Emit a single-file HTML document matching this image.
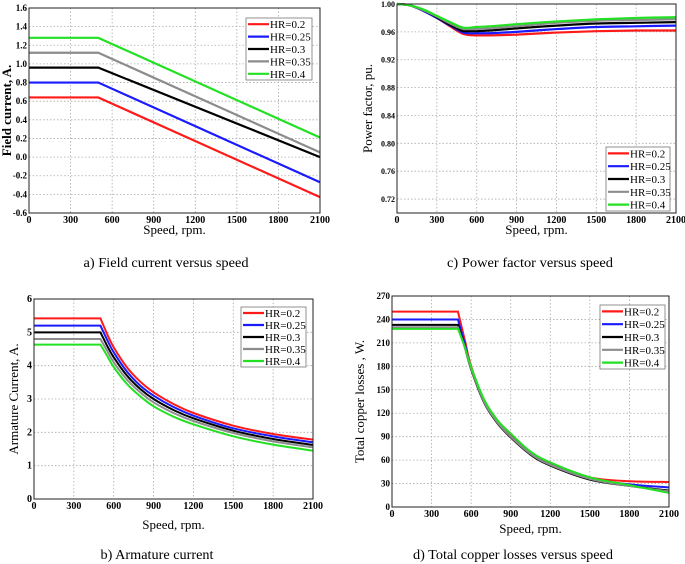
<!DOCTYPE html>
<html><head><meta charset="utf-8"><style>
html,body{margin:0;padding:0;background:#fff;}
svg{display:block;font-family:"Liberation Serif",serif;}
</style></head><body>
<svg id="root" width="685" height="564" viewBox="0 0 685 564" xmlns="http://www.w3.org/2000/svg">
<text x="166" y="267" font-size="14" text-anchor="middle" textLength="165" lengthAdjust="spacingAndGlyphs">a) Field current versus speed</text>
<text x="530" y="267" font-size="14" text-anchor="middle" textLength="166" lengthAdjust="spacingAndGlyphs">c) Power factor versus speed</text>
<text x="157" y="559" font-size="14" text-anchor="middle" textLength="113" lengthAdjust="spacingAndGlyphs">b) Armature current</text>
<text x="513" y="559" font-size="14" text-anchor="middle" textLength="200" lengthAdjust="spacingAndGlyphs">d) Total copper losses versus speed</text>
</svg>
<script>
const hrLabels=["HR=0.2","HR=0.25","HR=0.3","HR=0.35","HR=0.4"];
const colors=["#ff1a1a","#1a1aff","#000000","#8c8c8c","#22e022"];
const xTicks=[0,300,600,900,1200,1500,1800,2100];

const fieldSpeed=[0,500,2100];
const fieldHR02=[0.64,0.64,-0.43];
const fieldHR025=[0.80,0.80,-0.27];
const fieldHR03=[0.96,0.96,0.00];
const fieldHR035=[1.12,1.12,0.05];
const fieldHR04=[1.28,1.28,0.21];
const fieldYTicks=[-0.6,-0.4,-0.2,0.0,0.2,0.4,0.6,0.8,1.0,1.2,1.4,1.6];

const pfSpeed=[0,100,200,300,400,500,600,700,900,1200,1500,1800,2100];
const pfHR02=[1,0.998,0.990,0.980,0.968,0.957,0.955,0.955,0.956,0.959,0.961,0.962,0.962];
const pfHR025=[1,0.998,0.990,0.980,0.969,0.959,0.958,0.958,0.960,0.964,0.967,0.968,0.969];
const pfHR03=[1,0.998,0.991,0.981,0.970,0.961,0.961,0.962,0.965,0.969,0.972,0.973,0.974];
const pfHR035=[1,0.998,0.991,0.982,0.972,0.964,0.964,0.965,0.968,0.973,0.976,0.977,0.978];
const pfHR04=[1,0.998,0.992,0.983,0.974,0.966,0.967,0.968,0.971,0.975,0.978,0.980,0.981];
const pfYTicks=[0.72,0.76,0.80,0.84,0.88,0.92,0.96,1.00];

const armSpeed=[0,500,550,600,700,800,900,1050,1200,1500,1800,2100];
const armHR02=[5.42,5.42,4.95,4.55,3.95,3.52,3.2,2.85,2.58,2.2,1.95,1.78];
const armHR025=[5.2,5.2,4.78,4.4,3.82,3.4,3.1,2.76,2.5,2.12,1.88,1.70];
const armHR03=[5.0,5.0,4.6,4.25,3.7,3.3,3.0,2.67,2.42,2.05,1.8,1.62];
const armHR035=[4.8,4.8,4.45,4.1,3.58,3.2,2.9,2.58,2.34,1.98,1.73,1.55];
const armHR04=[4.63,4.63,4.3,3.96,3.45,3.08,2.78,2.47,2.24,1.88,1.63,1.45];
const armYTicks=[0,1,2,3,4,5,6];

const cuSpeed=[0,500,550,600,700,800,900,1050,1200,1500,1800,2100];
const cuHR02=[250,250,215,180,136,110,92,70,56,38,33,32];
const cuHR025=[240,240,210,178,134,108,90,68,54,36,29,25];
const cuHR03=[233,233,206,176,133,107,89,67,53,35,27,21];
const cuHR035=[230,230,205,177,134,108,90,68,54,36,27,20];
const cuHR04=[228,228,206,179,137,111,94,71,57,38,28,18];
const cuYTicks=[0,30,60,90,120,150,180,210,240,270];

const NS="http://www.w3.org/2000/svg";
const root=document.getElementById('root');
function mk(tag,attrs,parent){const e=document.createElementNS(NS,tag);for(const k in attrs)e.setAttribute(k,attrs[k]);(parent||root).appendChild(e);return e;}
function smooth(pts){let d="M"+pts[0][0]+","+pts[0][1];for(let i=0;i<pts.length-1;i++){const p0=pts[Math.max(0,i-1)],p1=pts[i],p2=pts[i+1],p3=pts[Math.min(pts.length-1,i+2)];const t=(p1[1]===p2[1]||p0[1]===p1[1]&&i>0&&p2[0]-p1[0]<60)?0:1/6;const c1=[p1[0]+(p2[0]-p0[0])*t,p1[1]+(p2[1]-p0[1])*t];const c2=[p2[0]-(p3[0]-p1[0])*t,p2[1]-(p3[1]-p1[1])*t];d+=" C"+c1[0]+","+c1[1]+" "+c2[0]+","+c2[1]+" "+p2[0]+","+p2[1];}return d;}

function chart(c){
 const g=mk('g',{});
 
 
 const xs=v=>c.l+(v-0)/(2100)*(c.r-c.l);
 const ys=v=>c.b-(v-c.ymin)/(c.ymax-c.ymin)*(c.b-c.t);
 xTicks.forEach(v=>{if(v>0&&v<2100){const gl=mk('line',{x1:xs(v),x2:xs(v),y1:c.t,y2:c.b,stroke:"#aaa","stroke-width":0.8,"stroke-dasharray":"1.5,2"},g);}});
 c.yticks.forEach(v=>{const y=ys(v);if(y>c.t+1&&y<c.b-1){const gl=mk('line',{x1:c.l,x2:c.r,y1:y,y2:y,stroke:"#aaa","stroke-width":0.8,"stroke-dasharray":"1.5,2"},g);}});
 c.series.forEach((s,i)=>{const pts=c.x.map((v,j)=>[xs(v),ys(s[j])]);
  const p=mk('path',{d:c.linear?"M"+pts.map(p=>p.join(",")).join(" L"):smooth(pts),fill:"none",stroke:colors[i],"stroke-width":c.sw||2.2},g);
  
  });
 const fr=mk('rect',{x:c.l,y:c.t,width:c.r-c.l,height:c.b-c.t,fill:"none",stroke:"#222","stroke-width":1},g);
 
 xTicks.forEach(v=>{const t=mk('text',{x:xs(v),y:c.b+10,"font-size":10,"font-weight":"bold","text-anchor":"middle"},g);t.textContent=v;
  });
 c.yticks.forEach(v=>{const t=mk('text',{x:c.l-2,y:ys(v)+3,"font-size":c.ytfs||9,"font-weight":"bold","text-anchor":"end"},g);t.textContent=v.toFixed(c.dec);
  });
 const xt=mk('text',{x:(c.l+c.r)/2,y:c.b+c.xtOff,"font-size":13,"text-anchor":"middle"},g);xt.textContent=c.xtitle;
 
 const yt=mk('text',{x:0,y:0,"font-size":c.ytsz||13,"font-weight":c.ytb?"bold":"normal","text-anchor":"middle",transform:`translate(${c.ytx},${(c.t+c.b)/2}) rotate(-90)`},g);yt.textContent=c.ytitle;
 
 const L=c.leg;const lg=mk('g',{},g);
 mk('rect',{x:L[0],y:L[1],width:L[2]-L[0],height:L[3]-L[1],fill:"#fff",stroke:"#777","stroke-width":0.8},lg);
 const step=(L[3]-L[1])/5;
 hrLabels.forEach((h,i)=>{const y=L[1]+step*(i+0.5);
  const ln=mk('line',{x1:L[0]+2,x2:L[0]+23,y1:y,y2:y,stroke:colors[i],"stroke-width":2.2},lg);
  
  const t=mk('text',{x:L[0]+24,y:y+4,"font-size":11},lg);t.textContent=h;
  });
}
chart({name:'field-current-chart',l:29,r:320,t:8,b:213,ymin:-0.6,ymax:1.6,yticks:fieldYTicks,dec:1,x:fieldSpeed,series:[fieldHR02,fieldHR025,fieldHR03,fieldHR035,fieldHR04],linear:true,xtitle:'Speed, rpm.',xtOff:21,ytitle:'Field current, A.',ytx:11,ytb:true,ytsz:13,leg:[246,18,312,80]});
chart({name:'power-factor-chart',l:397,r:676,t:4,b:213,ymin:0.70,ymax:1.00,yticks:pfYTicks,dec:2,ytfs:8,x:pfSpeed,series:[pfHR02,pfHR025,pfHR03,pfHR035,pfHR04],xtitle:'Speed, rpm.',xtOff:21,ytitle:'Power factor, pu.',ytx:372,leg:[606,147,670,211]});
chart({name:'armature-current-chart',l:34,r:313,t:299,b:499,ymin:0,ymax:6,yticks:armYTicks,dec:0,ytfs:10,x:armSpeed,series:[armHR02,armHR025,armHR03,armHR035,armHR04],xtitle:'Speed, rpm.',xtOff:30,ytitle:'Armature Current,  A.',ytx:18,leg:[241,307,306,367],sw:2});
chart({name:'copper-losses-chart',l:392,r:669,t:296,b:507,ymin:0,ymax:270,yticks:cuYTicks,dec:0,ytfs:9,x:cuSpeed,series:[cuHR02,cuHR025,cuHR03,cuHR035,cuHR04],xtitle:'Speed,  rpm.',xtOff:26,ytitle:'Total copper losses , W.',ytx:364,leg:[600,305,665,369],sw:2});
</script>
</body></html>
